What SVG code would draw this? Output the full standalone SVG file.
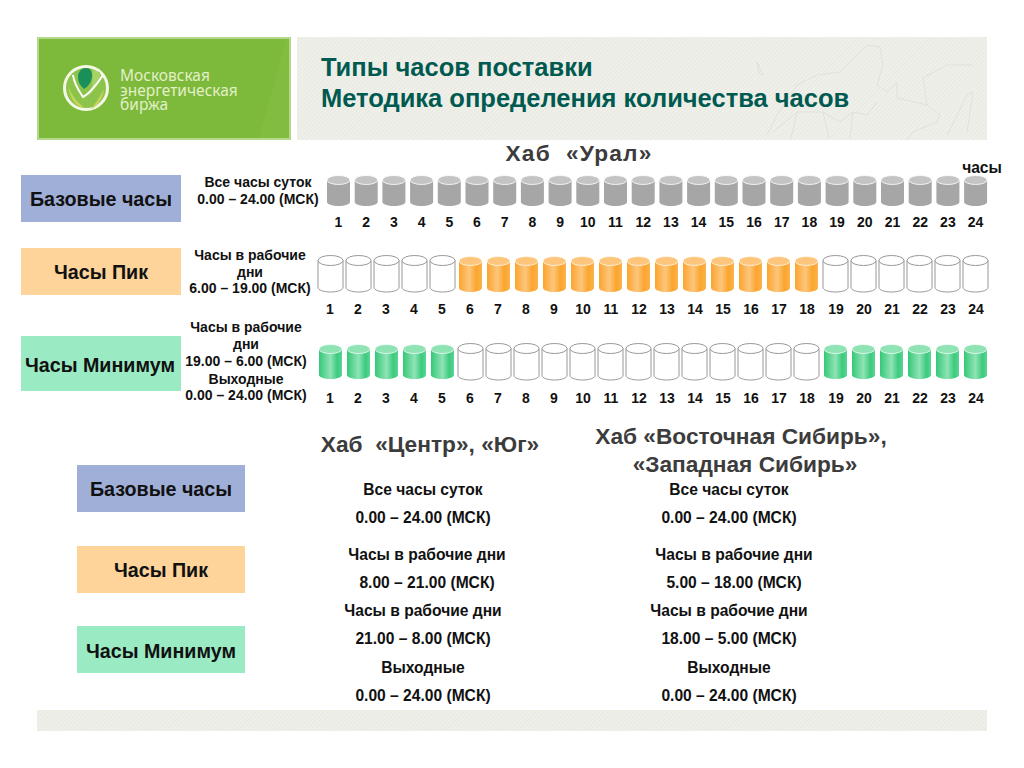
<svg xmlns="http://www.w3.org/2000/svg" xmlns:xlink="http://www.w3.org/1999/xlink" width="1024" height="768" viewBox="0 0 1024 768">
<defs>
<pattern id="hatch" width="3" height="3" patternUnits="userSpaceOnUse" patternTransform="rotate(45)"><rect width="3" height="3" fill="#f0f0eb"/><rect width="1" height="3" fill="#e8e8e1"/></pattern>
<linearGradient id="gO" x1="0" x2="1" y1="0" y2="0"><stop offset="0" stop-color="#fba52e"/><stop offset=".45" stop-color="#fdc67c"/><stop offset=".75" stop-color="#fba52e"/><stop offset="1" stop-color="#fcb24d"/></linearGradient>
<linearGradient id="gG" x1="0" x2="1" y1="0" y2="0"><stop offset="0" stop-color="#35c878"/><stop offset=".5" stop-color="#8fe3b4"/><stop offset=".8" stop-color="#3bcb7e"/><stop offset="1" stop-color="#5ad592"/></linearGradient>
<g id="cg"><path d="M-11.500 5v22c0 2 5 4 11.500 4s11.500-2 11.500-4V5z" fill="#a6a6a6"/><ellipse cx="0" cy="5" rx="11.500" ry="4.500" fill="#c4c4c4" stroke="#fff" stroke-width=".8"/></g>
<g id="cw"><path d="M-12.500 6v27c0 2.500 5.500 4.500 12.500 4.500s12.500-2 12.500-4.500V6" fill="#fff" stroke="#8c8c8c" stroke-width=".9"/><ellipse cx="0" cy="6" rx="12.500" ry="5" fill="#fff" stroke="#8c8c8c" stroke-width=".9"/></g>
<g id="co"><path d="M-11.500 5v27c0 2 5 4 11.500 4s11.500-2 11.500-4V5z" fill="url(#gO)"/><ellipse cx="0" cy="5" rx="11.500" ry="4.500" fill="#fdc67c" stroke="#fff" stroke-width=".7"/></g>
<g id="cn"><path d="M-11.500 5v26c0 2 5 4 11.500 4s11.500-2 11.500-4V5z" fill="url(#gG)"/><ellipse cx="0" cy="5" rx="11.500" ry="4.500" fill="#8fe3b4" stroke="#fff" stroke-width=".7"/></g>
</defs>
<style>
text{font-family:"Liberation Sans",Arial,sans-serif;font-weight:700;fill:#111;text-anchor:middle;white-space:pre}
.n{font-size:14px}
.s{font-size:14px}
.d{font-size:15.600px}
.b{font-size:19.700px}
.h{font-size:22.700px;fill:#3c3c3c}
.t{font-size:25.500px;fill:#005a50;text-anchor:start}
.m{fill:none;stroke:#e0e1da;stroke-width:1}
.l{font-weight:400;font-size:15.500px;fill:#e2f0c8;text-anchor:start;font-family:"Noto Sans","Liberation Sans",sans-serif}
</style>
<rect width="1024" height="768" fill="#fff"/>
<g id="header">
<rect x="297" y="37" width="690" height="103" fill="url(#hatch)"/>
<g id="map">
<path class="m" d="M767 135l10-20 20-30 20-10 23-3 17-17 10-10 13 2 3 18-6 20 10 7 10-10v16l30 7 13 10-3 7-24 10-6 8"/>
<path class="m" d="M927 105l-4-27 24-13h26M757 62l6 13-4-2zM947 135l20-40 6-3-6 40M773 132l24-20h26l17 10 13-10 14 3 10-13M797 112l-6 26M823 112l6 26M853 112l-3 26"/>
</g>
<rect x="38" y="38" width="252" height="101" fill="#7db93a" stroke="#b5d88b" stroke-width="2"/>
<path d="M286 39h3v99h-30z" fill="#82bc40"/>
<circle cx="86" cy="88" r="21.500" fill="#8cc34a" stroke="#f4f8e8" stroke-width="3"/>
<path d="M68 85c3 10 9 17 17 23-9 0-15-9-17-23zM104 89c-1 9-6 17-13 20 5-6 9-13 13-20z" fill="#c5d35a"/>
<path d="M88 96c6-5 14-14 12-24l-8-2c2 10 0 18-4 26z" fill="#a6d364"/>
<path d="M86 68c-5 0-8 4-8 9 0 6 3 9 6 12 5-3 8-8 8-14 0-4-2-7-6-7z" fill="#1b8f5a"/>
<path d="M73 75c1 9 6 16 10 22 6-3 15-14 20-22" fill="none" stroke="#fff" stroke-width="2"/>
<text class="l" x="120" y="81">Московская</text>
<text class="l" x="120" y="96">энергетическая</text>
<text class="l" x="120" y="110">биржа</text>
<text class="t" x="321" y="76">Типы часов поставки</text>
<text class="t" x="321" y="107">Методика определения количества часов</text>
</g>
<rect id="footer" x="37" y="710" width="950" height="21" fill="url(#hatch)"/>
<text class="h" x="579" y="161" style="letter-spacing:1.200px">Хаб  «Урал»</text>
<text class="d" x="982" y="173">часы</text>

<g id="base-1"><rect x="21" y="175" width="160" height="47" fill="#a0afd8"/><text class="b" x="101" y="206">Базовые часы</text></g>
<g id="peak-1"><rect x="21" y="248" width="160" height="47" fill="#fed49b"/><text class="b" x="101" y="279">Часы Пик</text></g>
<g id="min-1"><rect x="21" y="336" width="160" height="55" fill="#9aeac3"/><text class="b" x="100" y="372">Часы Минимум</text></g>

<g id="notes-ural">
<text class="s" x="258" y="187">Все часы суток</text>
<text class="s" x="258" y="204">0.00 – 24.00 (МСК)</text>
<text class="s" x="250" y="260">Часы в рабочие</text>
<text class="s" x="250" y="277">дни</text>
<text class="s" x="250" y="293">6.00 – 19.00 (МСК)</text>
<text class="s" x="246" y="332">Часы в рабочие</text>
<text class="s" x="246" y="349">дни</text>
<text class="s" x="246" y="366">19.00 – 6.00 (МСК)</text>
<text class="s" x="246" y="384">Выходные</text>
<text class="s" x="246" y="400">0.00 – 24.00 (МСК)</text>
</g>

<g id="row-base">
<use href="#cg" x="338.500" y="175"/><use href="#cg" x="366.200" y="175"/><use href="#cg" x="393.900" y="175"/><use href="#cg" x="421.600" y="175"/><use href="#cg" x="449.300" y="175"/><use href="#cg" x="477" y="175"/><use href="#cg" x="504.700" y="175"/><use href="#cg" x="532.400" y="175"/><use href="#cg" x="560.100" y="175"/><use href="#cg" x="587.800" y="175"/><use href="#cg" x="615.500" y="175"/><use href="#cg" x="643.200" y="175"/><use href="#cg" x="670.900" y="175"/><use href="#cg" x="698.600" y="175"/><use href="#cg" x="726.300" y="175"/><use href="#cg" x="754" y="175"/><use href="#cg" x="781.700" y="175"/><use href="#cg" x="809.400" y="175"/><use href="#cg" x="837.100" y="175"/><use href="#cg" x="864.800" y="175"/><use href="#cg" x="892.500" y="175"/><use href="#cg" x="920.200" y="175"/><use href="#cg" x="947.900" y="175"/><use href="#cg" x="975.600" y="175"/>
<text class="n" x="338.500" y="227">1</text><text class="n" x="366.200" y="227">2</text><text class="n" x="393.900" y="227">3</text><text class="n" x="421.600" y="227">4</text><text class="n" x="449.300" y="227">5</text><text class="n" x="477" y="227">6</text><text class="n" x="504.700" y="227">7</text><text class="n" x="532.400" y="227">8</text><text class="n" x="560.100" y="227">9</text><text class="n" x="587.800" y="227">10</text><text class="n" x="615.500" y="227">11</text><text class="n" x="643.200" y="227">12</text><text class="n" x="670.900" y="227">13</text><text class="n" x="698.600" y="227">14</text><text class="n" x="726.300" y="227">15</text><text class="n" x="754" y="227">16</text><text class="n" x="781.700" y="227">17</text><text class="n" x="809.400" y="227">18</text><text class="n" x="837.100" y="227">19</text><text class="n" x="864.800" y="227">20</text><text class="n" x="892.500" y="227">21</text><text class="n" x="920.200" y="227">22</text><text class="n" x="947.900" y="227">23</text><text class="n" x="975.600" y="227">24</text>
</g>
<g id="row-peak">
<use href="#cw" x="330.500" y="254.500"/><use href="#cw" x="358.500" y="254.500"/><use href="#cw" x="386.500" y="254.500"/><use href="#cw" x="414.500" y="254.500"/><use href="#cw" x="442.500" y="254.500"/>
<use href="#co" x="470.500" y="256"/><use href="#co" x="498.500" y="256"/><use href="#co" x="526.500" y="256"/><use href="#co" x="554.500" y="256"/><use href="#co" x="582.500" y="256"/><use href="#co" x="610.500" y="256"/><use href="#co" x="638.500" y="256"/><use href="#co" x="666.500" y="256"/><use href="#co" x="694.500" y="256"/><use href="#co" x="722.500" y="256"/><use href="#co" x="750.500" y="256"/><use href="#co" x="778.500" y="256"/><use href="#co" x="806.500" y="256"/>
<use href="#cw" x="835.500" y="254.500"/><use href="#cw" x="863.500" y="254.500"/><use href="#cw" x="891.500" y="254.500"/><use href="#cw" x="919.500" y="254.500"/><use href="#cw" x="947.500" y="254.500"/><use href="#cw" x="975.500" y="254.500"/>
<text class="n" x="330" y="314">1</text><text class="n" x="358" y="314">2</text><text class="n" x="386" y="314">3</text><text class="n" x="414" y="314">4</text><text class="n" x="442" y="314">5</text><text class="n" x="470" y="314">6</text><text class="n" x="498" y="314">7</text><text class="n" x="526" y="314">8</text><text class="n" x="554" y="314">9</text><text class="n" x="583" y="314">10</text><text class="n" x="611" y="314">11</text><text class="n" x="639" y="314">12</text><text class="n" x="667" y="314">13</text><text class="n" x="695" y="314">14</text><text class="n" x="723" y="314">15</text><text class="n" x="751" y="314">16</text><text class="n" x="779" y="314">17</text><text class="n" x="807" y="314">18</text><text class="n" x="836" y="314">19</text><text class="n" x="864" y="314">20</text><text class="n" x="892" y="314">21</text><text class="n" x="920" y="314">22</text><text class="n" x="948" y="314">23</text><text class="n" x="976" y="314">24</text>
</g>
<g id="row-min">
<use href="#cn" x="330.500" y="344"/><use href="#cn" x="358.500" y="344"/><use href="#cn" x="386.500" y="344"/><use href="#cn" x="414.500" y="344"/><use href="#cn" x="442.500" y="344"/>
<use href="#cw" x="470.500" y="342.500"/><use href="#cw" x="498.500" y="342.500"/><use href="#cw" x="526.500" y="342.500"/><use href="#cw" x="554.500" y="342.500"/><use href="#cw" x="582.500" y="342.500"/><use href="#cw" x="610.500" y="342.500"/><use href="#cw" x="638.500" y="342.500"/><use href="#cw" x="666.500" y="342.500"/><use href="#cw" x="694.500" y="342.500"/><use href="#cw" x="722.500" y="342.500"/><use href="#cw" x="750.500" y="342.500"/><use href="#cw" x="778.500" y="342.500"/><use href="#cw" x="806.500" y="342.500"/>
<use href="#cn" x="835.500" y="344"/><use href="#cn" x="863.500" y="344"/><use href="#cn" x="891.500" y="344"/><use href="#cn" x="919.500" y="344"/><use href="#cn" x="947.500" y="344"/><use href="#cn" x="975.500" y="344"/>
<text class="n" x="330" y="403">1</text><text class="n" x="358" y="403">2</text><text class="n" x="386" y="403">3</text><text class="n" x="414" y="403">4</text><text class="n" x="442" y="403">5</text><text class="n" x="470" y="403">6</text><text class="n" x="498" y="403">7</text><text class="n" x="526" y="403">8</text><text class="n" x="554" y="403">9</text><text class="n" x="583" y="403">10</text><text class="n" x="611" y="403">11</text><text class="n" x="639" y="403">12</text><text class="n" x="667" y="403">13</text><text class="n" x="695" y="403">14</text><text class="n" x="723" y="403">15</text><text class="n" x="751" y="403">16</text><text class="n" x="779" y="403">17</text><text class="n" x="807" y="403">18</text><text class="n" x="836" y="403">19</text><text class="n" x="864" y="403">20</text><text class="n" x="892" y="403">21</text><text class="n" x="920" y="403">22</text><text class="n" x="948" y="403">23</text><text class="n" x="976" y="403">24</text>
</g>

<text class="h" x="430" y="452">Хаб  «Центр», «Юг»</text>
<text class="h" x="741" y="444">Хаб «Восточная Сибирь»,</text>
<text class="h" x="745" y="472">«Западная Сибирь»</text>

<g id="base-2"><rect x="77" y="465" width="168" height="47" fill="#a0afd8"/><text class="b" x="161" y="496">Базовые часы</text></g>
<g id="peak-2"><rect x="77" y="546" width="168" height="47" fill="#fed49b"/><text class="b" x="161" y="577">Часы Пик</text></g>
<g id="min-2"><rect x="77" y="626" width="168" height="47" fill="#9aeac3"/><text class="b" x="161" y="658">Часы Минимум</text></g>

<g id="col-center">
<text class="d" x="423" y="495">Все часы суток</text>
<text class="d" x="423" y="523">0.00 – 24.00 (МСК)</text>
<text class="d" x="427" y="560">Часы в рабочие дни</text>
<text class="d" x="427" y="588">8.00 – 21.00 (МСК)</text>
<text class="d" x="423" y="616">Часы в рабочие дни</text>
<text class="d" x="423" y="644">21.00 – 8.00 (МСК)</text>
<text class="d" x="423" y="673">Выходные</text>
<text class="d" x="423" y="701">0.00 – 24.00 (МСК)</text>
</g>
<g id="col-siberia">
<text class="d" x="729" y="495">Все часы суток</text>
<text class="d" x="729" y="523">0.00 – 24.00 (МСК)</text>
<text class="d" x="734" y="560">Часы в рабочие дни</text>
<text class="d" x="734" y="588">5.00 – 18.00 (МСК)</text>
<text class="d" x="729" y="616">Часы в рабочие дни</text>
<text class="d" x="729" y="644">18.00 – 5.00 (МСК)</text>
<text class="d" x="729" y="673">Выходные</text>
<text class="d" x="729" y="701">0.00 – 24.00 (МСК)</text>
</g>
</svg>
